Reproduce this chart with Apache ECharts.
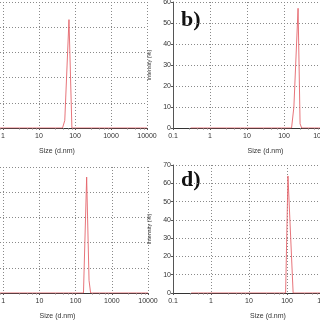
<!DOCTYPE html>
<html><head><meta charset="utf-8">
<script src="https://cdn.jsdelivr.net/npm/echarts@6/dist/echarts.min.js"></script>
<style>html,body{margin:0;padding:0;background:#fff}#c{width:320px;height:320px}</style>
</head><body><div id="c"></div>
<script>
// Panel a
const sizeA = [0.4, 45, 52, 68, 82, 10000];
const intA  = [0, 0, 3, 43, 0, 0];
// Panel b
const sizeB = [0.3, 160, 185, 240, 272, 300, 10000];
const intB  = [0, 0, 10, 57, 2, 0, 0];
// Panel c
const sizeC = [0.4, 165, 202, 235, 260, 10000];
const intC  = [0, 0, 46, 5, 0, 0];
// Panel d
const sizeD = [0.3, 92, 106, 145, 10000];
const intD  = [0, 0, 64, 0, 0];
const yMaxes = [50, 60, 50, 70];
const panelLabels = ['b)', 'd)'];
const xTitle = 'Size (d.nm)';
const yTitle = 'Intensity (%)';

const font = "'Liberation Sans Narrow','Liberation Sans',sans-serif";
const grids = [
  {left: -33, top: 2, width: 180, height: 126, outerBoundsMode:'none', containLabel:false},
  {left: 173, top: 2, width: 185, height: 126, outerBoundsMode:'none', containLabel:false},
  {left: -33, top: 167, width: 181, height: 126, outerBoundsMode:'none', containLabel:false},
  {left: 173, top: 165, width: 190, height: 128, outerBoundsMode:'none', containLabel:false}
];
const pts = (xs, ys) => xs.map((x, i) => [x, ys[i]]);
const data = [pts(sizeA,intA), pts(sizeB,intB), pts(sizeC,intC), pts(sizeD,intD)];
const grid = {color:'#8a8a8a', type:[1,2], width:1};
const xAxis = grids.map((g,i) => ({
  type:'log', logBase:10, min:0.1, max:10000, gridIndex:i,
  name:xTitle, nameLocation:'middle', nameGap:20,
  nameTextStyle:{fontSize:7, color:'#333', fontFamily:font},
  axisLine:{show:true, onZero:false, lineStyle:{color:'#333', width:1}},
  axisTick:{show:true, length:2, lineStyle:{color:'#555'}},
  minorTick:{show:true, splitNumber:5, length:1.5, lineStyle:{color:'#777'}},
  axisLabel:{fontSize:7, color:'#333', margin:5, fontFamily:font, formatter: v => String(+v.toPrecision(3))},
  splitLine:{show:true, lineStyle:grid}
}));
const yAxis = grids.map((g,i) => ({
  type:'value', min:0, max:yMaxes[i], interval:10, gridIndex:i,
  name:yTitle, nameLocation:'middle', nameGap:10, nameRotate:90,
  nameTextStyle:{fontSize:5.5, color:'#333', fontFamily:font},
  axisLine:{show:true, lineStyle:{color:'#555', width:1}},
  axisTick:{show:true, length:2, lineStyle:{color:'#555'}},
  axisLabel:{fontSize:7, color:'#333', margin:2, fontFamily:font},
  splitLine:{show:true, lineStyle:grid}
}));
const series = data.map((d,i) => ({
  type:'line', xAxisIndex:i, yAxisIndex:i, data:d, showSymbol:false, symbol:'none',
  lineStyle:{color:'#e4646b', width:0.9}, animation:false, z:3
}));
const chart = echarts.init(document.getElementById('c'), null, {renderer:'canvas'});
chart.setOption({
  backgroundColor:'#fff', animation:false,
  grid: grids, xAxis, yAxis, series,
  graphic: [
    {type:'text', left:181, top:9, style:{text:panelLabels[0], font:"bold 22px 'Liberation Serif', serif", fill:'#111'}},
    {type:'text', left:181, top:169, style:{text:panelLabels[1], font:"bold 22px 'Liberation Serif', serif", fill:'#111'}}
  ]
});
</script></body></html>
